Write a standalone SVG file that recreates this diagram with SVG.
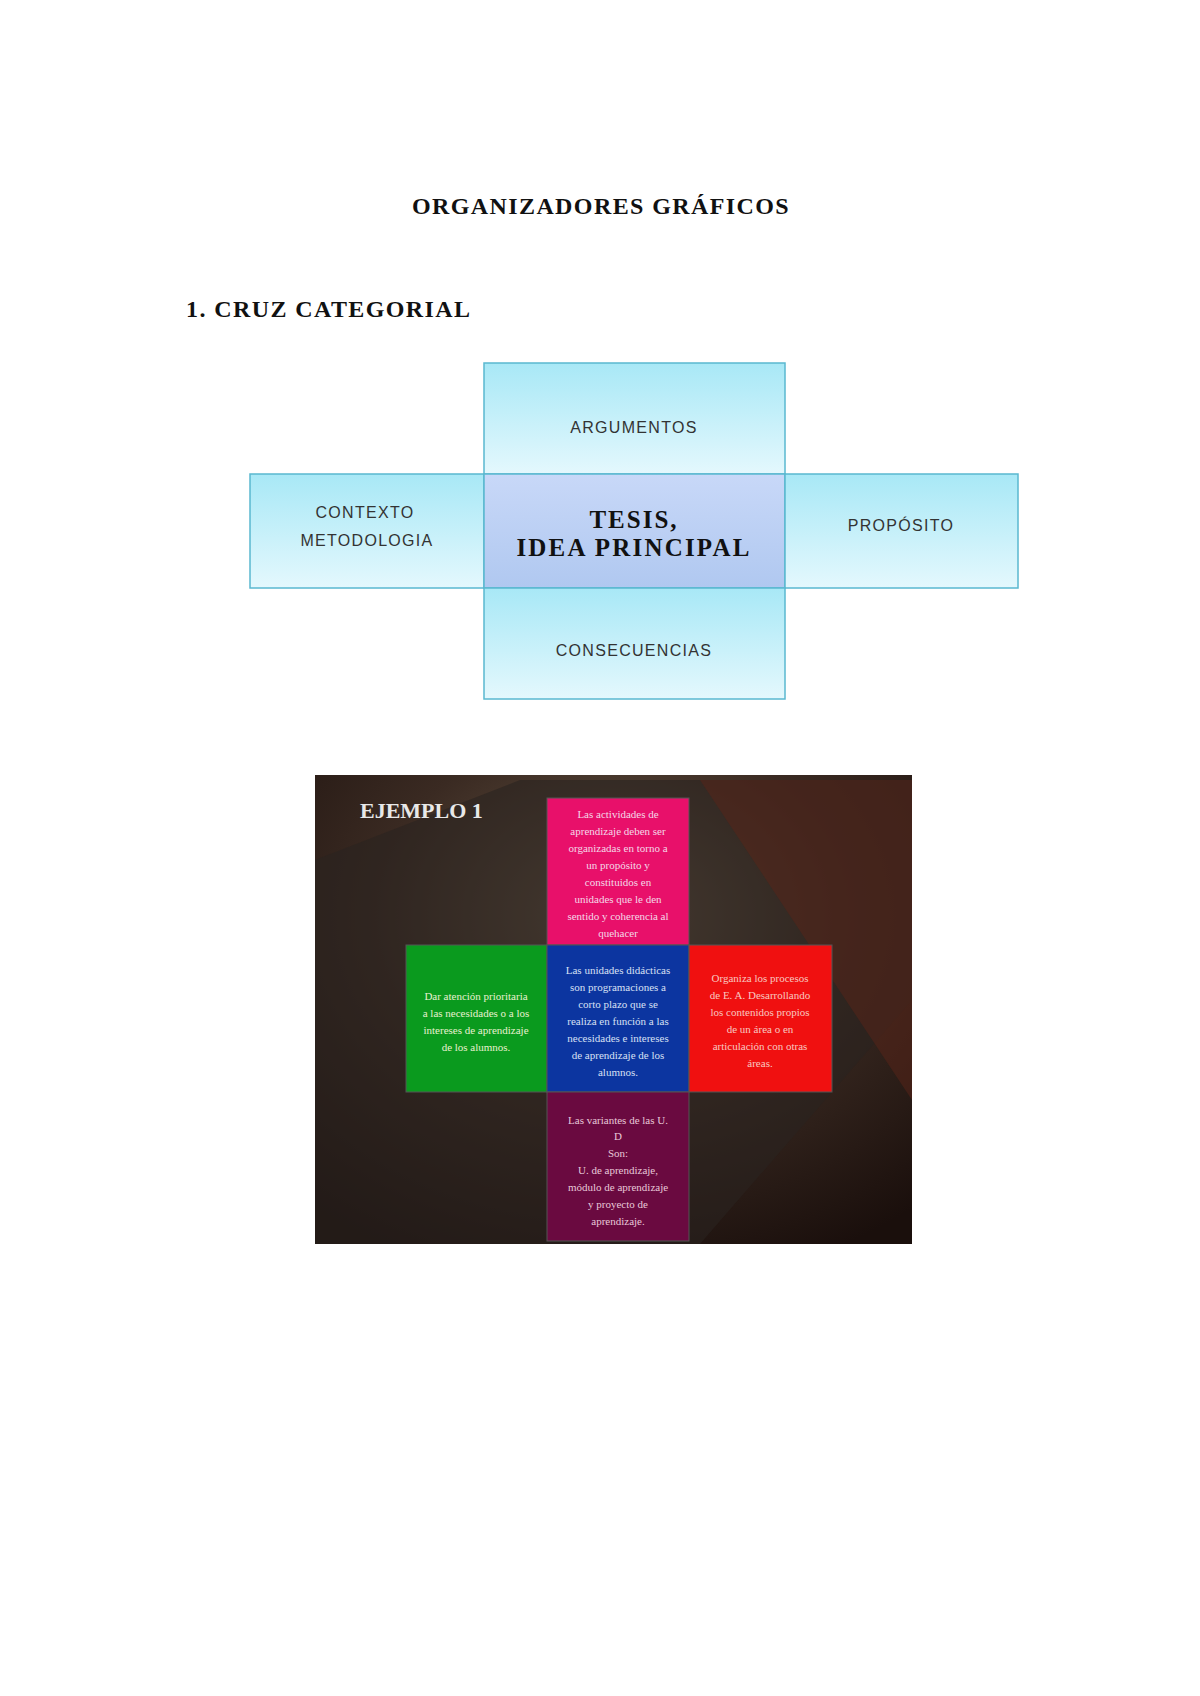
<svg xmlns="http://www.w3.org/2000/svg" width="1200" height="1696" viewBox="0 0 1200 1696">
<defs>
<linearGradient id="cy" x1="0" y1="0" x2="0" y2="1"><stop offset="0" stop-color="#a8e8f6"/><stop offset="1" stop-color="#e4f8fd"/></linearGradient>
<linearGradient id="cc" x1="0" y1="0" x2="0" y2="1"><stop offset="0" stop-color="#c8d8f8"/><stop offset="1" stop-color="#b0c8f0"/></linearGradient>
<radialGradient id="bg" cx="0.5" cy="0.3" r="0.8"><stop offset="0" stop-color="#6a5a48"/><stop offset="0.5" stop-color="#3a2a22"/><stop offset="1" stop-color="#1a0f0c"/></radialGradient>
<style>
.b{stroke:#5ab8d0;stroke-width:1.5}
.s{font-family:"Liberation Sans",Arial,sans-serif;font-size:16px;fill:#333;text-anchor:middle;letter-spacing:1.3px}
.t{font-family:"Liberation Serif",serif;font-size:11px;fill:#f4d8e8;text-anchor:middle}
.h{font-family:"Liberation Serif",serif;font-weight:bold;font-size:24px;fill:#111;letter-spacing:1.4px}
</style>
</defs>
<rect width="1200" height="1696" fill="#fff"/>
<text class="h" x="601" y="214" text-anchor="middle">ORGANIZADORES GRÁFICOS</text>
<text class="h" x="186" y="317" font-size="25">1.  CRUZ CATEGORIAL</text>
<g id="arg"><rect class="b" x="484" y="363" width="301" height="111" fill="url(#cy)"/><text class="s" x="634" y="433">ARGUMENTOS</text></g>
<g id="ctx"><rect class="b" x="250" y="474" width="234" height="114" fill="url(#cy)"/><text class="s" x="365" y="518">CONTEXTO</text><text class="s" x="367" y="546">METODOLOGIA</text></g>
<g id="tesis"><rect class="b" x="484" y="474" width="301" height="114" fill="url(#cc)"/><text x="634" y="528" text-anchor="middle" font-family="Liberation Serif,serif" font-weight="bold" font-size="25" letter-spacing="2" fill="#111">TESIS,</text><text x="634" y="556" text-anchor="middle" font-family="Liberation Serif,serif" font-weight="bold" font-size="25" letter-spacing="2.2" fill="#111">IDEA PRINCIPAL</text></g>
<g id="prop"><rect class="b" x="785" y="474" width="233" height="114" fill="url(#cy)"/><text class="s" x="901" y="531" font-size="18">PROPÓSITO</text></g>
<g id="cons"><rect class="b" x="484" y="588" width="301" height="111" fill="url(#cy)"/><text class="s" x="634" y="656">CONSECUENCIAS</text></g>
<g id="ejemplo">
<rect x="315" y="775" width="597" height="469" fill="url(#bg)"/>
<polygon points="315,860 520,780 912,780 912,1000 700,1244 315,1244" fill="#2a2320" opacity="0.6"/>
<polygon points="700,780 912,780 912,1100" fill="#5a2418" opacity="0.5"/>
<text x="360" y="818" font-family="Liberation Serif,serif" font-weight="bold" font-size="22" fill="#e8e8e8">EJEMPLO 1</text>
</g>
<g id="pink"><rect x="547" y="798" width="142" height="147" fill="#e8106a" stroke="#555"/>
<text class="t"><tspan x="618" y="818">Las actividades de</tspan><tspan x="618" y="835">aprendizaje deben ser</tspan><tspan x="618" y="852">organizadas en torno a</tspan><tspan x="618" y="869">un propósito y</tspan><tspan x="618" y="886">constituidos en</tspan><tspan x="618" y="903">unidades que le den</tspan><tspan x="618" y="920">sentido y coherencia al</tspan><tspan x="618" y="937">quehacer</tspan></text></g>
<g id="green"><rect x="406" y="945" width="141" height="147" fill="#0a9a1e" stroke="#555"/>
<text class="t" style="fill:#e8f0d0"><tspan x="476" y="1000">Dar atención prioritaria</tspan><tspan x="476" y="1017">a las necesidades o a los</tspan><tspan x="476" y="1034">intereses de aprendizaje</tspan><tspan x="476" y="1051">de los alumnos.</tspan></text></g>
<g id="blue"><rect x="547" y="945" width="142" height="147" fill="#0c35a0" stroke="#555"/>
<text class="t" style="fill:#d8e0f4"><tspan x="618" y="974">Las unidades didácticas</tspan><tspan x="618" y="991">son programaciones a</tspan><tspan x="618" y="1008">corto plazo que se</tspan><tspan x="618" y="1025">realiza en función a las</tspan><tspan x="618" y="1042">necesidades e intereses</tspan><tspan x="618" y="1059">de aprendizaje de los</tspan><tspan x="618" y="1076">alumnos.</tspan></text></g>
<g id="red"><rect x="689" y="945" width="143" height="147" fill="#f01010" stroke="#555"/>
<text class="t" style="fill:#f8c8c0"><tspan x="760" y="982">Organiza los procesos</tspan><tspan x="760" y="999">de E. A. Desarrollando</tspan><tspan x="760" y="1016">los contenidos propios</tspan><tspan x="760" y="1033">de un área o en</tspan><tspan x="760" y="1050">articulación con otras</tspan><tspan x="760" y="1067">áreas.</tspan></text></g>
<g id="purple"><rect x="547" y="1092" width="142" height="149" fill="#6a0a40" stroke="#555"/>
<text class="t" style="fill:#e8c8d8"><tspan x="618" y="1124">Las variantes de las U.</tspan><tspan x="618" y="1140">D</tspan><tspan x="618" y="1157">Son:</tspan><tspan x="618" y="1174">U. de aprendizaje,</tspan><tspan x="618" y="1191">módulo de aprendizaje</tspan><tspan x="618" y="1208">y proyecto de</tspan><tspan x="618" y="1225">aprendizaje.</tspan></text></g>
<g id="connectors"/>
</svg>
